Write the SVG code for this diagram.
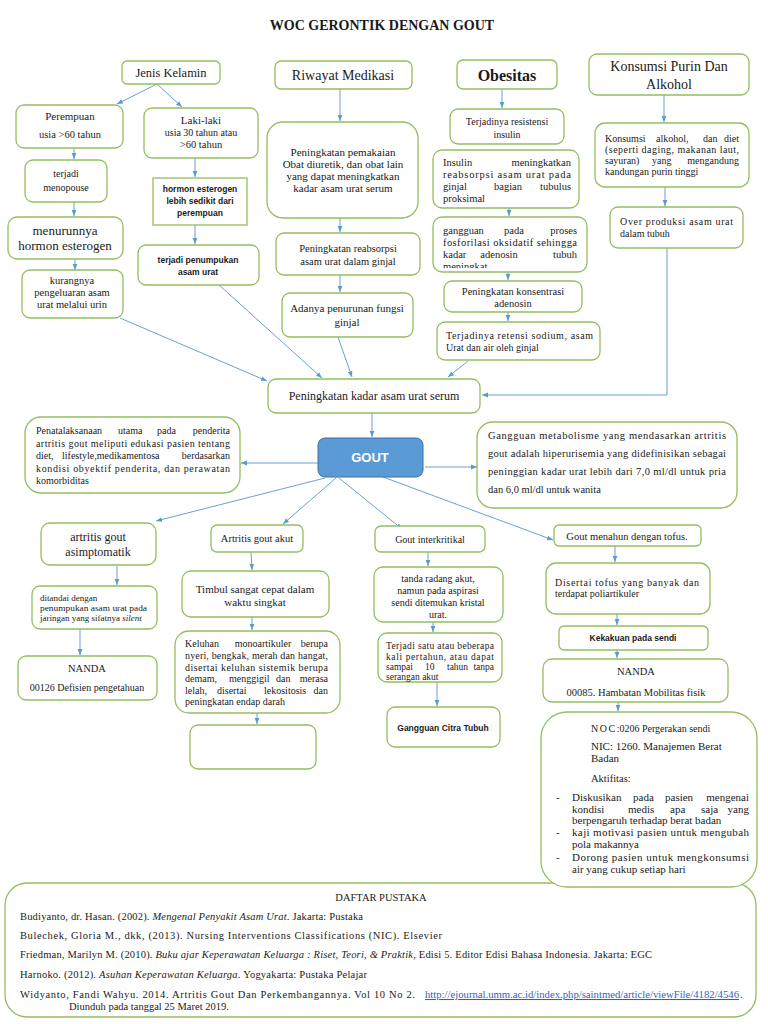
<svg xmlns="http://www.w3.org/2000/svg" width="768" height="1024" viewBox="0 0 768 1024">
<style>
.n{fill:#fff;stroke:#93bf5f;stroke-width:1.3}
.s{font-family:"Liberation Serif","Times New Roman",serif;fill:#1a1a1a}
.b{font-family:"Liberation Sans",Arial,sans-serif;font-weight:bold;fill:#1a1a1a}
.m{text-anchor:middle}
.e{text-anchor:end}
.i{font-style:italic}
.c{stroke:#6b9fd6;stroke-width:1;fill:none;marker-end:url(#a)}
</style>
<defs>
<marker id="a" viewBox="0 0 10 10" refX="10" refY="5" markerWidth="6" markerHeight="6" markerUnits="userSpaceOnUse" orient="auto"><path d="M0,1 L10,5 L0,9 z" fill="#5b9bd5"/></marker>
<clipPath id="clipG"><rect x="433" y="217" width="154" height="51"/></clipPath>
</defs>
<rect width="768" height="1024" fill="#fff"/>
<text class="s m" x="382" y="30" font-size="14" font-weight="bold">WOC GERONTIK DENGAN GOUT</text>

<g id="connectors">
<line class="c" x1="157" y1="84" x2="117" y2="104"/>
<line class="c" x1="157" y1="84" x2="182" y2="107"/>
<line class="c" x1="74" y1="148" x2="74" y2="159"/>
<line class="c" x1="74" y1="202" x2="74" y2="216"/>
<line class="c" x1="75" y1="259" x2="75" y2="270"/>
<line class="c" x1="195" y1="158" x2="195" y2="177"/>
<line class="c" x1="195" y1="225" x2="195" y2="244"/>
<line class="c" x1="120" y1="318" x2="267" y2="381"/>
<line class="c" x1="219" y1="285" x2="322" y2="378"/>
<line class="c" x1="340" y1="89" x2="340" y2="121"/>
<line class="c" x1="340" y1="218" x2="340" y2="232"/>
<line class="c" x1="340" y1="275" x2="340" y2="292"/>
<line class="c" x1="338" y1="337" x2="352" y2="377"/>
<line class="c" x1="502" y1="89" x2="502" y2="108"/>
<line class="c" x1="509" y1="208" x2="509" y2="216"/>
<line class="c" x1="508" y1="272" x2="508" y2="280"/>
<line class="c" x1="508" y1="312" x2="508" y2="321"/>
<line class="c" x1="468" y1="361" x2="448" y2="377"/>
<line class="c" x1="664" y1="95" x2="664" y2="122"/>
<line class="c" x1="665" y1="187" x2="665" y2="206"/>
<polyline class="c" points="667,248 667,395 482,395"/>
<line class="c" x1="372" y1="413" x2="372" y2="437"/>
<line class="c" x1="318" y1="463" x2="241" y2="463"/>
<line class="c" x1="425" y1="467" x2="477" y2="467"/>
<line class="c" x1="325" y1="478" x2="156" y2="521"/>
<line class="c" x1="336" y1="478" x2="283" y2="524"/>
<line class="c" x1="339" y1="478" x2="402" y2="529"/>
<line class="c" x1="383" y1="477" x2="553" y2="540"/>
<line class="c" x1="117" y1="566" x2="117" y2="585"/>
<line class="c" x1="80" y1="629" x2="80" y2="655"/>
<line class="c" x1="251" y1="552" x2="252" y2="570"/>
<line class="c" x1="252" y1="617" x2="252" y2="630"/>
<line class="c" x1="257" y1="713" x2="257" y2="724"/>
<line class="c" x1="428" y1="552" x2="428" y2="566"/>
<line class="c" x1="433" y1="622" x2="433" y2="632"/>
<line class="c" x1="437" y1="682" x2="437" y2="706"/>
<line class="c" x1="615" y1="546" x2="615" y2="562"/>
<line class="c" x1="617" y1="614" x2="617" y2="625"/>
<line class="c" x1="617" y1="650" x2="617" y2="658"/>
<line class="c" x1="618" y1="702" x2="618" y2="711"/>
</g>

<g id="jenis-kelamin"><rect class="n" x="122" y="61" width="98" height="23" rx="5"/>
<text class="s m" x="171" y="77" font-size="12.5">Jenis Kelamin</text></g>

<g id="perempuan"><rect class="n" x="16" y="105" width="107" height="43" rx="8"/>
<text class="s m" x="70" y="120" font-size="11">Perempuan</text>
<text class="s m" x="70" y="138" font-size="10.5">usia &gt;60 tahun</text></g>

<g id="laki-laki"><rect class="n" x="144" y="108" width="114" height="50" rx="8"/>
<text class="s m" x="201" y="124" font-size="11">Laki-laki</text>
<text class="s m" x="201" y="136" font-size="10">usia 30 tahun atau</text>
<text class="s m" x="201" y="148" font-size="10.5">&gt;60 tahun</text></g>

<g id="menopouse"><rect class="n" x="25" y="160" width="82" height="42" rx="8"/>
<text class="s m" x="66" y="177" font-size="10">terjadi</text>
<text class="s m" x="66" y="191" font-size="10">menopouse</text></g>

<g id="hormon-sedikit"><rect class="n" x="153" y="178" width="94" height="47"/>
<text class="b m" x="200" y="192" font-size="8.5">hormon esterogen</text>
<text class="b m" x="200" y="204" font-size="8.5">lebih sedikit dari</text>
<text class="b m" x="200" y="216" font-size="8.5">perempuan</text></g>

<g id="menurunnya"><rect class="n" x="8" y="217" width="115" height="42" rx="9"/>
<text class="s m" x="65" y="235" font-size="13">menurunnya</text>
<text class="s m" x="65" y="250" font-size="13">hormon esterogen</text></g>

<g id="penumpukan"><rect class="n" x="138" y="245" width="121" height="40" rx="8"/>
<text class="b m" x="198" y="263" font-size="8.5">terjadi penumpukan</text>
<text class="b m" x="198" y="275" font-size="8.5">asam urat</text></g>

<g id="kurangnya"><rect class="n" x="22" y="270" width="101" height="48" rx="8"/>
<text class="s m" x="72" y="284" font-size="10.5">kurangnya</text>
<text class="s m" x="72" y="296" font-size="10.5">pengeluaran asam</text>
<text class="s m" x="72" y="308" font-size="10.5">urat melalui urin</text></g>

<g id="riwayat"><rect class="n" x="275" y="61" width="137" height="28" rx="6"/>
<text class="s m" x="343" y="80" font-size="14">Riwayat Medikasi</text></g>

<g id="pemakaian"><rect class="n" x="267" y="122" width="151" height="96" rx="16"/>
<text class="s m" x="343" y="156" font-size="11">Peningkatan pemakaian</text>
<text class="s m" x="343" y="168" font-size="11">Obat diuretik, dan obat lain</text>
<text class="s m" x="343" y="180" font-size="11">yang dapat meningkatkan</text>
<text class="s m" x="343" y="192" font-size="11">kadar asam urat serum</text></g>

<g id="reabsorpsi"><rect class="n" x="276" y="233" width="144" height="42" rx="8"/>
<text class="s m" x="348" y="252" font-size="10.5">Peningkatan reabsorpsi</text>
<text class="s m" x="348" y="265" font-size="10.5">asam urat dalam ginjal</text></g>

<g id="fungsi-ginjal"><rect class="n" x="282" y="293" width="131" height="44" rx="8"/>
<text class="s m" x="347" y="312" font-size="11">Adanya penurunan fungsi</text>
<text class="s m" x="347" y="326" font-size="11">ginjal</text></g>

<g id="obesitas"><rect class="n" x="457" y="60" width="100" height="29" rx="6"/>
<text class="s m" x="507" y="81" font-size="16" font-weight="bold">Obesitas</text></g>

<g id="resistensi"><rect class="n" x="450" y="109" width="114" height="35" rx="8"/>
<text class="s m" x="507" y="125" font-size="10">Terjadinya resistensi</text>
<text class="s m" x="507" y="138" font-size="10">insulin</text></g>

<g id="insulin"><rect class="n" x="433" y="150" width="146" height="58" rx="9"/>
<text class="s" x="443" y="166" font-size="10.5">Insulin</text><text class="s e" x="571" y="166" font-size="10.5">meningkatkan</text>
<text class="s" x="443" y="178" font-size="10.5" textLength="128" lengthAdjust="spacing">reabsorpsi asam urat pada</text>
<text class="s" x="443" y="190" font-size="10.5">ginjal</text><text class="s m" x="508" y="190" font-size="10.5">bagian</text><text class="s e" x="571" y="190" font-size="10.5">tubulus</text>
<text class="s" x="443" y="202" font-size="10.5">proksimal</text></g>

<g id="fosforilasi"><rect class="n" x="433" y="217" width="154" height="55" rx="9"/>
<text class="s" x="443" y="234" font-size="10.5">gangguan</text><text class="s m" x="514" y="234" font-size="10.5">pada</text><text class="s e" x="577" y="234" font-size="10.5">proses</text>
<text class="s" x="443" y="246" font-size="10.5" textLength="134" lengthAdjust="spacing">fosforilasi oksidatif sehingga</text>
<text class="s" x="443" y="258" font-size="10.5">kadar</text><text class="s m" x="499" y="258" font-size="10.5">adenosin</text><text class="s e" x="577" y="258" font-size="10.5">tubuh</text>
<text class="s" x="443" y="270" font-size="10.5" clip-path="url(#clipG)">meningkat</text></g>

<g id="konsentrasi"><rect class="n" x="444" y="281" width="138" height="31" rx="8"/>
<text class="s m" x="513" y="295" font-size="10.5">Peningkatan konsentrasi</text>
<text class="s m" x="513" y="307" font-size="10.5">adenosin</text></g>

<g id="retensi"><rect class="n" x="437" y="322" width="163" height="38" rx="8"/>
<text class="s" x="446" y="339" font-size="10" textLength="147" lengthAdjust="spacing">Terjadinya retensi sodium, asam</text>
<text class="s" x="446" y="351" font-size="10">Urat dan air oleh ginjal</text></g>

<g id="purin-alkohol"><rect class="n" x="589" y="54" width="160" height="41" rx="8"/>
<text class="s m" x="669" y="71" font-size="14">Konsumsi Purin Dan</text>
<text class="s m" x="669" y="89" font-size="14">Alkohol</text></g>

<g id="konsumsi-alkohol"><rect class="n" x="595" y="123" width="154" height="64" rx="10"/>
<text class="s" x="605" y="142" font-size="10">Konsumsi</text><text class="s" x="656" y="142" font-size="10">alkohol,</text><text class="s" x="703" y="142" font-size="10">dan</text><text class="s e" x="739" y="142" font-size="10">diet</text>
<text class="s" x="605" y="153" font-size="10" textLength="134" lengthAdjust="spacing">(seperti daging, makanan laut,</text>
<text class="s" x="605" y="164" font-size="10">sayuran)</text><text class="s" x="652" y="164" font-size="10">yang</text><text class="s e" x="739" y="164" font-size="10">mengandung</text>
<text class="s" x="605" y="175" font-size="10">kandungan purin tinggi</text></g>

<g id="over-produksi"><rect class="n" x="610" y="207" width="133" height="41" rx="8"/>
<text class="s" x="620" y="225" font-size="10" textLength="113" lengthAdjust="spacing">Over produksi asam urat</text>
<text class="s" x="620" y="237" font-size="10">dalam tubuh</text></g>

<g id="kadar-serum"><rect class="n" x="268" y="379" width="212" height="34" rx="8"/>
<text class="s m" x="374" y="400" font-size="12">Peningkatan kadar asam urat serum</text></g>

<g id="gout"><rect x="318" y="438" width="105" height="39" rx="7" fill="#5b9bd5" stroke="#41719c" stroke-width="1"/>
<text class="m" x="370" y="462" font-family="'Liberation Sans',Arial,sans-serif" font-weight="bold" font-size="13" fill="#fff">GOUT</text></g>

<g id="penatalaksanaan"><rect class="n" x="25" y="417" width="215" height="76" rx="16"/>
<text class="s" x="36" y="434" font-size="10">Penatalaksanaan</text><text class="s" x="118" y="434" font-size="10">utama</text><text class="s" x="157" y="434" font-size="10">pada</text><text class="s e" x="230" y="434" font-size="10">penderita</text>
<text class="s" x="36" y="446.5" font-size="10" textLength="194" lengthAdjust="spacing">artritis gout meliputi edukasi pasien tentang</text>
<text class="s" x="36" y="459" font-size="10">diet,</text><text class="s" x="62" y="459" font-size="10">lifestyle,medikamentosa</text><text class="s e" x="230" y="459" font-size="10">berdasarkan</text>
<text class="s" x="36" y="471.5" font-size="10" textLength="194" lengthAdjust="spacing">kondisi obyektif penderita, dan perawatan</text>
<text class="s" x="36" y="484" font-size="10">komorbiditas</text></g>

<g id="hiperurisemia"><rect class="n" x="477" y="422" width="260" height="86" rx="16"/>
<text class="s" x="488" y="438.5" font-size="10.5" textLength="238" lengthAdjust="spacing">Gangguan metabolisme yang mendasarkan artritis</text>
<text class="s" x="488" y="456.5" font-size="10.5" textLength="238" lengthAdjust="spacing">gout adalah hiperurisemia yang didefinisikan sebagai</text>
<text class="s" x="488" y="474.5" font-size="10.5" textLength="238" lengthAdjust="spacing">peninggian kadar urat lebih dari 7,0 ml/dl untuk pria</text>
<text class="s" x="488" y="492.5" font-size="10.5">dan 6,0 ml/dl untuk wanita</text></g>

<g id="asimptomatik"><rect class="n" x="41" y="523" width="115" height="42" rx="9"/>
<text class="s m" x="98" y="541" font-size="12">artritis gout</text>
<text class="s m" x="98" y="556" font-size="12">asimptomatik</text></g>

<g id="ditandai"><rect class="n" x="32" y="586" width="125" height="43" rx="8"/>
<text class="s" x="40" y="601" font-size="9">ditandai dengan</text>
<text class="s" x="40" y="611" font-size="9" textLength="107" lengthAdjust="spacingAndGlyphs">penumpukan asam urat pada</text>
<text class="s" x="40" y="621" font-size="9">jaringan yang  sifatnya <tspan class="i">silent</tspan></text></g>

<g id="nanda-00126"><rect class="n" x="18" y="656" width="139" height="44" rx="8"/>
<text class="s m" x="87" y="672" font-size="10.5">NANDA</text>
<text class="s m" x="87" y="691" font-size="10">00126 Defisien pengetahuan</text></g>

<g id="gout-akut"><rect class="n" x="211" y="525" width="92" height="27" rx="6"/>
<text class="s m" x="257" y="542" font-size="10.5">Artritis gout akut</text></g>

<g id="timbul"><rect class="n" x="182" y="571" width="147" height="46" rx="9"/>
<text class="s m" x="255" y="593" font-size="11">Timbul sangat cepat dalam</text>
<text class="s m" x="255" y="606" font-size="11">waktu singkat</text></g>

<g id="keluhan"><rect class="n" x="175" y="631" width="165" height="82" rx="14"/>
<text class="s" x="185" y="647" font-size="10">Keluhan</text><text class="s m" x="263" y="647" font-size="10">monoartikuler</text><text class="s e" x="328" y="647" font-size="10">berupa</text>
<text class="s" x="185" y="659" font-size="10" textLength="143" lengthAdjust="spacing">nyeri, bengkak, merah dan hangat,</text>
<text class="s" x="185" y="670.5" font-size="10" textLength="143" lengthAdjust="spacing">disertai keluhan sistemik berupa</text>
<text class="s" x="185" y="682" font-size="10">demam,</text><text class="s" x="229" y="682" font-size="10">menggigil</text><text class="s" x="276" y="682" font-size="10">dan</text><text class="s e" x="328" y="682" font-size="10">merasa</text>
<text class="s" x="185" y="693.5" font-size="10">lelah,</text><text class="s" x="217" y="693.5" font-size="10">disertai</text><text class="s" x="264" y="693.5" font-size="10">lekositosis</text><text class="s e" x="328" y="693.5" font-size="10">dan</text>
<text class="s" x="185" y="705" font-size="10">peningkatan endap darah</text></g>

<g id="kosong"><rect class="n" x="190" y="725" width="126" height="44" rx="8"/></g>

<g id="interkritikal"><rect class="n" x="375" y="526" width="110" height="26" rx="6"/>
<text class="s m" x="430" y="543" font-size="10">Gout interkritikal</text></g>

<g id="radang"><rect class="n" x="374" y="567" width="129" height="55" rx="9"/>
<text class="s m" x="438" y="581.5" font-size="10">tanda radang akut,</text>
<text class="s m" x="438" y="594" font-size="10">namun pada aspirasi</text>
<text class="s m" x="438" y="606" font-size="10">sendi ditemukan kristal</text>
<text class="s m" x="438" y="618" font-size="10">urat.</text></g>

<g id="serangan"><rect class="n" x="378" y="633" width="124" height="49" rx="9"/>
<text class="s" x="386" y="649" font-size="9.5" textLength="108" lengthAdjust="spacing">Terjadi satu atau beberapa</text>
<text class="s" x="386" y="659.5" font-size="9.5" textLength="108" lengthAdjust="spacing">kali pertahun, atau dapat</text>
<text class="s" x="386" y="670" font-size="9.5">sampai</text><text class="s" x="425" y="670" font-size="9.5">10</text><text class="s" x="447" y="670" font-size="9.5">tahun</text><text class="s e" x="494" y="670" font-size="9.5">tanpa</text>
<text class="s" x="386" y="680" font-size="9.5">serangan akut</text></g>

<g id="citra-tubuh"><rect class="n" x="387" y="707" width="113" height="40" rx="8"/>
<text class="b m" x="443" y="731" font-size="8.5">Gangguan Citra Tubuh</text></g>

<g id="menahun"><rect class="n" x="554" y="525" width="147" height="21" rx="5"/>
<text class="s m" x="627" y="540" font-size="10.5">Gout menahun dengan tofus.</text></g>

<g id="tofus"><rect class="n" x="546" y="563" width="164" height="51" rx="10"/>
<text class="s" x="555" y="585.5" font-size="10" textLength="144" lengthAdjust="spacing">Disertai tofus yang banyak dan</text>
<text class="s" x="555" y="597" font-size="10">terdapat poliartikuler</text></g>

<g id="kekakuan"><rect class="n" x="559" y="626" width="149" height="24" rx="5"/>
<text class="b m" x="633" y="641" font-size="8.5">Kekakuan pada sendi</text></g>

<g id="nanda-00085"><rect class="n" x="543" y="659" width="185" height="43" rx="9"/>
<text class="s m" x="636" y="675" font-size="10.5">NANDA</text>
<text class="s m" x="636" y="696" font-size="10.5">00085. Hambatan Mobilitas fisik</text></g>

<g id="daftar-pustaka"><rect class="n" x="5" y="883" width="751" height="134" rx="22"/>
<text class="s m" x="381" y="901" font-size="10.5">DAFTAR PUSTAKA</text>
<text class="s" x="20" y="920" font-size="10.5" textLength="343" lengthAdjust="spacing">Budiyanto, dr. Hasan. (2002). <tspan class="i">Mengenal Penyakit Asam Urat</tspan>. Jakarta: Pustaka</text>
<text class="s" x="20" y="939" font-size="10.5" textLength="422" lengthAdjust="spacing">Bulechek, Gloria M., dkk, (2013). Nursing Interventions Classifications (NIC). Elsevier</text>
<text class="s" x="20" y="958" font-size="10.5" textLength="632" lengthAdjust="spacing">Friedman, Marilyn M. (2010). <tspan class="i">Buku ajar Keperawatan Keluarga : Riset, Teori, &amp;  Praktik</tspan>, Edisi 5. Editor Edisi Bahasa Indonesia. Jakarta: EGC</text>
<text class="s" x="20" y="978" font-size="10.5" textLength="347" lengthAdjust="spacing">Harnoko. (2012). <tspan class="i">Asuhan Keperawatan Keluarga</tspan>. Yogyakarta: Pustaka Pelajar</text>
<text class="s" x="20" y="998" font-size="10.5" textLength="395" lengthAdjust="spacing">Widyanto, Fandi Wahyu. 2014. Artritis Gout Dan Perkembangannya. Vol 10 No 2.</text>
<text x="425" y="998" font-family="'Liberation Serif',serif" font-size="10.5" fill="#2f5fc4" text-decoration="underline" textLength="314" lengthAdjust="spacingAndGlyphs">http://ejournal.umm.ac.id/index.php/saintmed/article/viewFile/4182/4546</text>
<text class="s" x="740" y="998" font-size="10.5">.</text>
<text class="s" x="69" y="1010" font-size="10.5">Diunduh pada tanggal 25 Maret 2019.</text></g>

<g id="noc-nic"><rect class="n" x="541" y="712" width="216" height="175" rx="26"/>
<text class="s" x="591" y="732" font-size="10"><tspan letter-spacing="1.5">NOC</tspan>:0206 Pergerakan sendi</text>
<text class="s" x="591" y="750" font-size="11">NIC: 1260. Manajemen Berat</text>
<text class="s" x="591" y="762" font-size="11">Badan</text>
<text class="s" x="591" y="782" font-size="10.5">Aktifitas:</text>
<text class="s" x="556" y="800.5" font-size="11">-</text>
<text class="s" x="572" y="800.5" font-size="11">Diskusikan</text><text class="s" x="633" y="800.5" font-size="11">pada</text><text class="s" x="665" y="800.5" font-size="11">pasien</text><text class="s e" x="749" y="800.5" font-size="11">mengenai</text>
<text class="s" x="572" y="812.5" font-size="11">kondisi</text><text class="s" x="628" y="812.5" font-size="11">medis</text><text class="s" x="670" y="812.5" font-size="11">apa</text><text class="s" x="701" y="812.5" font-size="11">saja</text><text class="s e" x="749" y="812.5" font-size="11">yang</text>
<text class="s" x="572" y="823.5" font-size="11">berpengaruh terhadap berat badan</text>
<text class="s" x="556" y="835.5" font-size="11">-</text>
<text class="s" x="572" y="835.5" font-size="11" textLength="177" lengthAdjust="spacing">kaji motivasi pasien untuk mengubah</text>
<text class="s" x="572" y="847.5" font-size="11">pola makannya</text>
<text class="s" x="556" y="860.5" font-size="11">-</text>
<text class="s" x="572" y="860.5" font-size="11" textLength="177" lengthAdjust="spacing">Dorong pasien untuk mengkonsumsi</text>
<text class="s" x="572" y="872.5" font-size="11">air yang cukup setiap hari</text></g>
</svg>
